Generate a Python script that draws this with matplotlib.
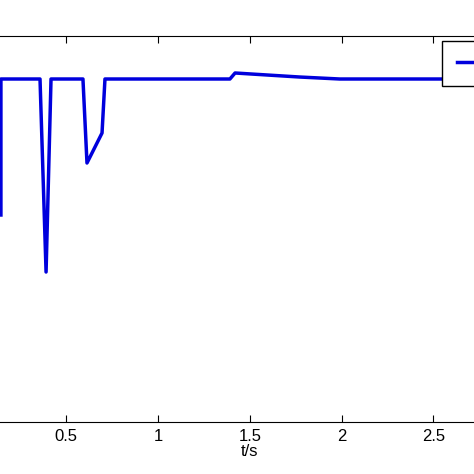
import matplotlib
matplotlib.use("Agg")
from matplotlib import pyplot as plt

plt.rcParams['font.family'] = ['Liberation Sans', 'DejaVu Sans']

# time samples (s) and signal values
t_values = [0.144, 0.144, 0.357, 0.390, 0.417, 0.591, 0.613, 0.695, 0.711,
            1.392, 1.420, 1.770, 1.990, 3.000]
y_values = [207, 343, 343, 150, 343, 343, 259, 289, 343,
            343, 349, 345, 343, 343]
x_ticks = [0.5, 1, 1.5, 2, 2.5]
x_tick_labels = ["0.5", "1", "1.5", "2", "2.5"]

W = 474.0
fig = plt.figure(figsize=(4.74, 4.74), dpi=100)
# axes deliberately wider than the figure, like the cropped original
ax = fig.add_axes([-25.5 / W, (W - 422) / W, 550.5 / W, 386 / W])
ax.plot(t_values, y_values, c='#0000dd', lw=2.5, label=" ")
ax.set_xlim(0, 3)
ax.set_ylim(0, 386)
ax.set_xticks(x_ticks)
ax.set_xticklabels(x_tick_labels, fontsize=12)
ax.set_yticks([])
ax.tick_params(axis='x', direction='in', top=True, length=5, width=0.8, pad=5)
ax.set_xlabel("t/s", fontsize=12, labelpad=0)
for s in ax.spines.values():
    s.set_linewidth(0.8)

ax.legend(loc='upper left', bbox_to_anchor=(442 / W, 1 - 41 / W),
          bbox_transform=fig.transFigure, fancybox=False, framealpha=1,
          edgecolor='black', fontsize=12, handlelength=3, borderpad=0.9,
          borderaxespad=0)

plt.savefig("out.png", dpi=100)
